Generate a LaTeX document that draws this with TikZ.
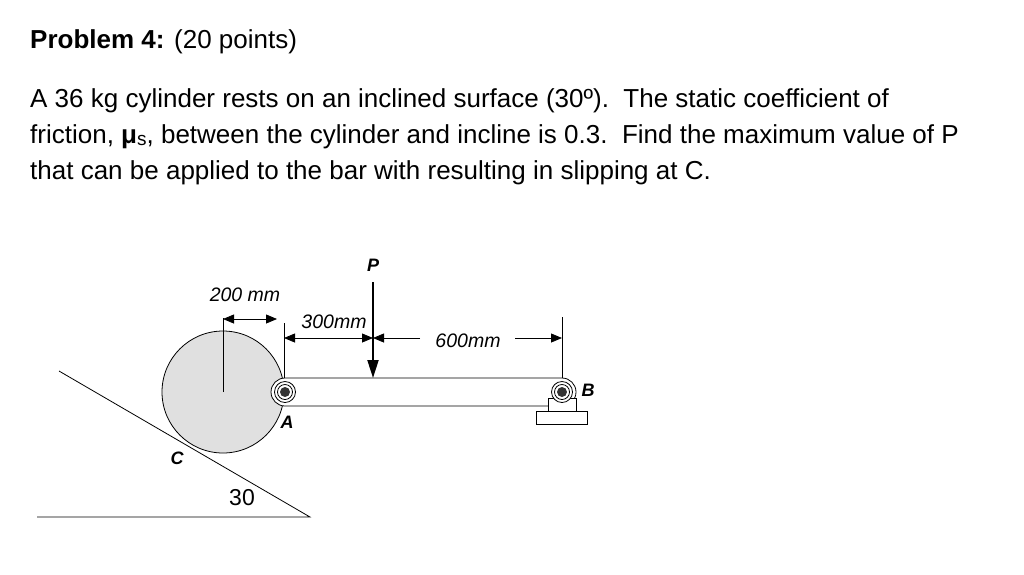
\documentclass[tikz,border=0pt]{standalone}
\usepackage{fontspec}
\setmainfont{Liberation Sans}
\usetikzlibrary{arrows.meta}
\begin{document}
\begin{tikzpicture}[x=1pt,y=-1pt,
  txt/.style={anchor=base west,inner sep=0,font=\fontsize{26}{30}\selectfont},
  dimlab/.style={inner sep=1pt,font=\itshape\fontsize{19.5}{22}\selectfont},
  ptlab/.style={inner sep=0,font=\bfseries\itshape\fontsize{18}{20}\selectfont},
  thin/.style={line width=0.8pt},
  dimarr/.style={thin,-{Triangle[length=11pt,width=9pt]}}]
\useasboundingbox (0,0) rectangle (1024,574);
% text
\node[txt] (t0) at (30,48) {\textbf{Problem 4:} (20 points)};
\node[txt] (t1) at (30,107) {A 36 kg cylinder rests on an inclined surface (30º).\ \ The static coefficient of};
\node[txt] (t2) at (30,143) {friction, {\bfseries μ}\raisebox{-2pt}{\fontsize{19}{21}\selectfont s}, between the cylinder and incline is 0.3.\ \ Find the maximum value of P};
\node[txt] (t3) at (30,179) {that can be applied to the bar with resulting in slipping at C.};
% incline
\coordinate (i1) at (59,371); \coordinate (i2) at (310,517);
\coordinate (g1) at (37,517);
\draw[thin] (i1) -- (i2) -- (g1);
% cylinder
\node[circle,draw,thin,fill=black!12,minimum size=122pt,inner sep=0] (cyl) at (223,392) {};
\coordinate (ctop) at (223,318);
\draw[thin] (cyl.center) -- (ctop);
% bar
\coordinate (A) at (285,392); \coordinate (B) at (562,392);
\draw[thin,fill=white] (285,378) -- (562,378) arc(-90:90:14) -- (285,406) arc(90:270:14) -- cycle;
% support B
\draw[thin,fill=white] (548,411) -- (548,398) -- (576,398) -- (576,411);
\draw[thin,fill=white] (536,411) rectangle (587,424);
% pins
\foreach \p in {A,B}{
  \draw[thin,fill=white] (\p) circle (10.5);
  \draw[thin,fill=white] (\p) circle (7.5);
  \fill[black!80] (\p) circle (5);
}
% P force
\coordinate (Ptop) at (373,282); \coordinate (Ptip) at (373,378);
\draw[line width=2pt,-{Triangle[length=18pt,width=11pt]}] (Ptop) -- (Ptip);
\node[ptlab] (Pl) at (373,265) {P};
% extension lines
\coordinate (eA1) at (284,323); \coordinate (eA2) at (284,378);
\coordinate (eB1) at (562,317); \coordinate (eB2) at (562,378);
\draw[thin] (eA1) -- (eA2); \draw[thin] (eB1) -- (eB2);
% dimensions
\coordinate (dA) at (284,338); \coordinate (dP) at (373,338); \coordinate (dB) at (562,338);
\draw[dimarr] (330,338) -- (dA);
\draw[dimarr] (330,338) -- (dP);
\draw[dimarr] (420,338) -- (dP);
\draw[dimarr] (515,338) -- (dB);
\node[dimlab,fill=white] (l600) at (468,341) {600mm};
\node[dimlab] (l300) at (334,322) {300mm};
\coordinate (d2a) at (223,319); \coordinate (d2b) at (277,319);
\draw[thin,{Triangle[length=11pt,width=9pt]}-{Triangle[length=11pt,width=9pt]}] (d2a) -- (d2b);
\node[dimlab] (l200) at (245,295) {200 mm};
% labels
\node[ptlab] (Al) at (287,422) {A};
\node[ptlab] (Bl) at (588,390) {B};
\node[ptlab] (Cl) at (177,458) {C};
\node[inner sep=0,font=\fontsize{23}{25}\selectfont] (a30) at (242,498) {30};
\end{tikzpicture}
\end{document}
